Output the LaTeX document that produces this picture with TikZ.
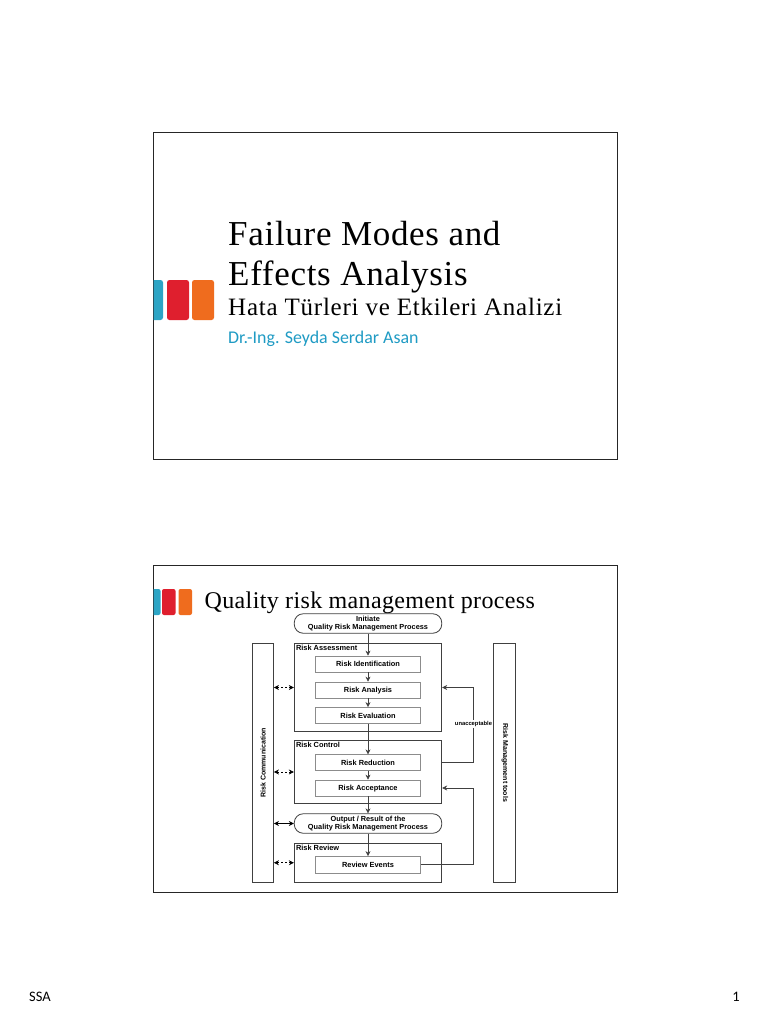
\documentclass[tikz,border=0pt]{standalone}
\usepackage{fontspec}
\setmainfont{Liberation Serif}
\newfontfamily\bodyfont{Carlito}
\newfontfamily\diagfont{Liberation Sans}
\newfontfamily\titlefont[LetterSpace = 2]{Liberation Serif}
\newfontfamily\subtitlefont[LetterSpace = 3]{Liberation Serif}
\newfontfamily\headfont[LetterSpace = 1.5]{Liberation Serif}
\usetikzlibrary{calc, arrows.meta}

\definecolor{iconblue}{HTML}{2CA5C5}
\definecolor{iconred}{HTML}{DF1F2E}
\definecolor{iconorange}{HTML}{EF6C1E}
\definecolor{subtitleblue}{HTML}{1F9BC4}
\definecolor{diagline}{HTML}{404040}

\tikzset{
	slideframe/.style = {draw = black!85, line width = 0.9pt, minimum width = 464pt, minimum height = 327pt, inner sep = 0pt},
	stagebox/.style = {draw = diagline, line width = 0.8pt, minimum width = 147.5pt, inner sep = 0pt},
	stepbox/.style = {draw = black!45, line width = 0.7pt, minimum width = 105.5pt, inner sep = 0pt, text height = 5.3pt, text depth = 0.2pt, align = center, font = \diagfont\bfseries\fontsize{7.4}{8}\selectfont},
	pillbox/.style = {draw = diagline, line width = 0.8pt, rounded corners = 9pt, minimum width = 147.5pt, minimum height = 19.5pt, inner sep = 0pt, align = center, font = \diagfont\bfseries\fontsize{7.35}{8.6}\selectfont},
	sidebar/.style = {draw = diagline, line width = 0.8pt, minimum height = 239.5pt, inner sep = 0pt},
	boxtitle/.style = {anchor = north west, inner xsep = 2pt, inner ysep = 2.5pt, font = \diagfont\bfseries\fontsize{7.4}{8}\selectfont},
	sidetext/.style = {font = \diagfont\bfseries\fontsize{7}{8}\selectfont},
	flow/.style = {draw = diagline, line width = 0.6pt, -{Stealth[length = 5pt, width = 5pt]}},
	talk/.style = {draw = black, line width = 0.6pt, dash pattern = on 2pt off 2pt, {Stealth[length = 5pt, width = 5pt]}-{Stealth[length = 5pt, width = 5pt]}},
	talksolid/.style = {draw = black, line width = 0.8pt, {Stealth[length = 5pt, width = 5pt]}-{Stealth[length = 5pt, width = 5pt]}}
}

\begin{document}
\begin{tikzpicture}[x = 1pt, y = -1pt]
	\useasboundingbox[fill = white] (0, 0) rectangle (768, 1024);

	% slide frames
	\node[slideframe] (slideA) at (385, 295.5){};
	\node[slideframe] (slideB) at (385, 728.5){};

	% icons, first slide
	\fill[iconblue] (153.5, 280) {[rounded corners = 2.5pt] -- (163, 280) -- (163, 320)} -- (153.5, 320) -- cycle;
	\fill[iconred, rounded corners = 2.5pt] (167, 280) rectangle (189, 320);
	\fill[iconorange, rounded corners = 2.5pt] (192, 280) rectangle (214, 320);

	% icons, second slide
	\fill[iconblue] (153.5, 589) {[rounded corners = 2pt] -- (160.5, 589) -- (160.5, 615)} -- (153.5, 615) -- cycle;
	\fill[iconred, rounded corners = 2pt] (162, 589) rectangle (175.5, 615);
	\fill[iconorange, rounded corners = 2pt] (178.5, 589) rectangle (192, 615);

	% first slide text
	\node[anchor = base west, inner sep = 0pt, font = \titlefont\fontsize{35}{40}\selectfont] (titleA) at (228, 245){Failure Modes and};
	\node[anchor = base west, inner sep = 0pt, font = \titlefont\fontsize{35}{40}\selectfont] (titleB) at (228, 285){Effects Analysis};
	\node[anchor = base west, inner sep = 0pt, font = \subtitlefont\fontsize{25}{28}\selectfont] (subtitle) at (228, 315){Hata Türleri ve Etkileri Analizi};
	\node[anchor = base west, inner sep = 0pt, text = subtitleblue, font = \bodyfont\fontsize{17.9}{20}\selectfont] (author) at (228, 343){Dr.-Ing. Seyda Serdar Asan};

	% second slide title
	\node[anchor = base west, inner sep = 0pt, font = \headfont\fontsize{24}{28}\selectfont] (titleC) at (204.5, 608){Quality risk management process};

	% process boxes
	\node[pillbox] (initiate) at (368, 623.5){Initiate\\Quality Risk Management Process};
	\node[stagebox, minimum height = 88pt] (assessment) at (368, 687){};
	\node[stepbox, minimum height = 16pt] (identification) at (368, 664){Risk Identification};
	\node[stepbox, minimum height = 16pt] (analysis) at (368, 690){Risk Analysis};
	\node[stepbox, minimum height = 16pt] (evaluation) at (368, 715.5){Risk Evaluation};
	\node[stagebox, minimum height = 63.5pt] (control) at (368, 772){};
	\node[stepbox, minimum height = 15.5pt] (reduction) at (368, 762.5){Risk Reduction};
	\node[stepbox, minimum height = 16pt] (acceptance) at (368, 788){Risk Acceptance};
	\node[pillbox] (output) at (368, 823.5){Output / Result of the\\Quality Risk Management Process};
	\node[stagebox, minimum height = 39.5pt] (review) at (368, 862.75){};
	\node[stepbox, minimum height = 16.5pt] (events) at (368, 864.75){Review Events};

	\node[boxtitle] (assessmentname) at (assessment.north west){Risk Assessment};
	\node[boxtitle] (controlname) at (control.north west){Risk Control};
	\node[boxtitle] (reviewname) at (review.north west){Risk Review};

	% side bars
	\node[sidebar, minimum width = 21pt] (commbar) at (263, 762.75){};
	\node[sidebar, minimum width = 22pt] (toolsbar) at (504.5, 762.75){};
	\node[sidetext, rotate = 90] (commtext) at (263, 762.75){Risk Communication};
	\node[sidetext, rotate = -90] (toolstext) at (505, 763){Risk Management tools};

	% main flow
	\draw[flow] (initiate) -- (identification);
	\draw[flow] (identification) -- (analysis);
	\draw[flow] (analysis) -- (evaluation);
	\draw[flow] (evaluation) -- (reduction);
	\draw[flow] (reduction) -- (acceptance);
	\draw[flow] (acceptance) -- (output);
	\draw[flow] (output) -- (events);

	% feedback
	\coordinate (loopback) at (473.5, 724);
	\draw[flow] (control.east |- reduction) -| (loopback) |- (assessment.east |- 0, 687.5);
	\draw[flow] (events) -| (loopback |- 0, 825) |- (control.east |- acceptance);
	\node[fill = white, inner xsep = 1pt, inner ysep = 1pt, font = \diagfont\bfseries\fontsize{5.8}{6}\selectfont] (unacceptable) at (loopback){unacceptable};

	% communication arrows
	\draw[talk] (commbar.east |- 0, 687.5) -- (assessment.west |- 0, 687.5);
	\draw[talk] (commbar.east |- control.west) -- (control.west);
	\draw[talksolid] (commbar.east |- output.west) -- (output.west);
	\draw[talk] (commbar.east |- review.west) -- (review.west);

	% footer
	\node[anchor = base west, inner sep = 0pt, font = \bodyfont\fontsize{14.5}{16}\selectfont] (footleft) at (29, 1001){SSA};
	\node[anchor = base east, inner sep = 0pt, font = \bodyfont\fontsize{14.5}{16}\selectfont] (footright) at (740, 1001){1};
\end{tikzpicture}
\end{document}
